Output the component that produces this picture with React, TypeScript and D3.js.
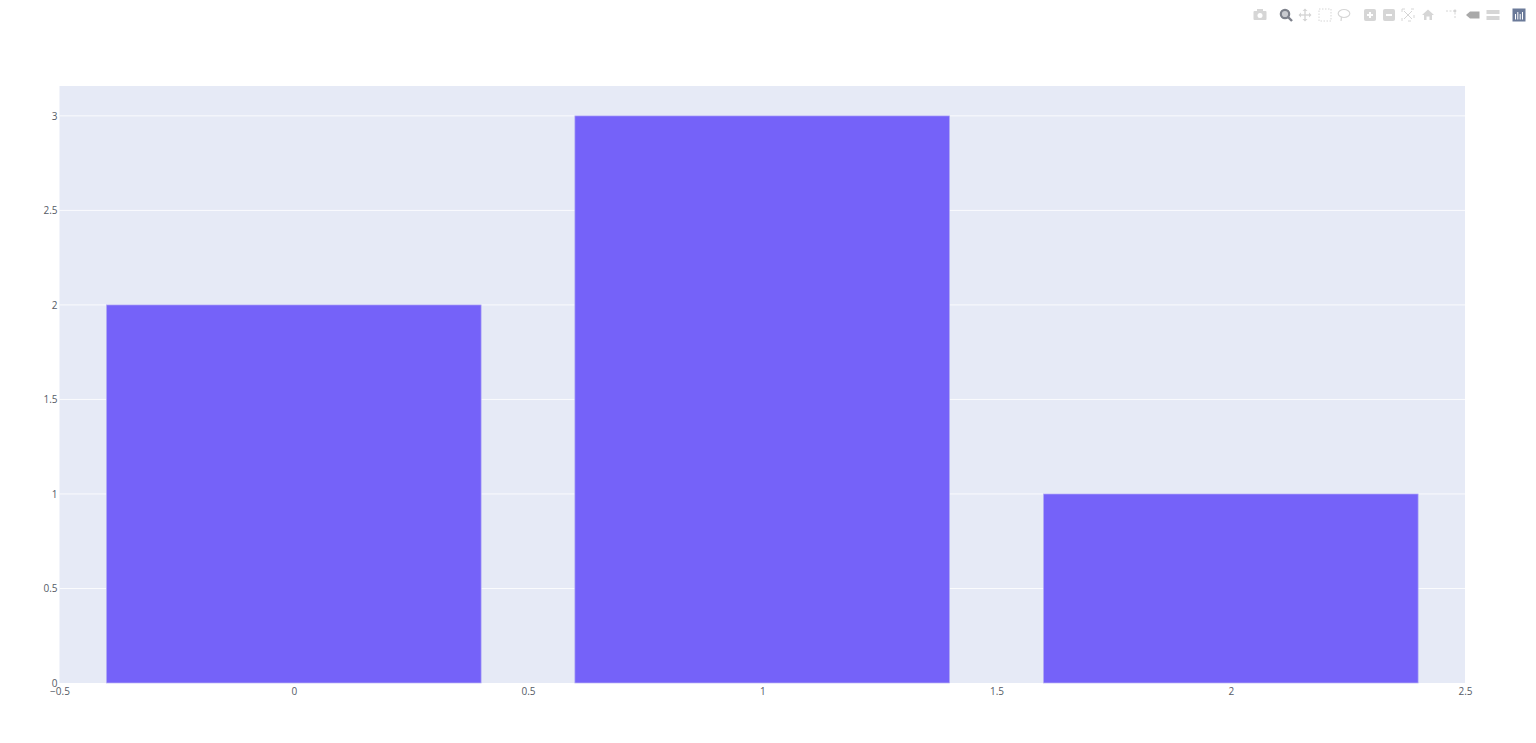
import * as React from "react";
import * as d3 from "d3";
import { useEffect, useRef } from "react";

const categories = [0, 1, 2];
const values = [2, 3, 1];
const xTicks = [-0.5, 0, 0.5, 1, 1.5, 2, 2.5];
const yTicks = [0, 0.5, 1, 1.5, 2, 2.5, 3];
const xDomain = [-0.5, 2.5];
const yDomain = [0, 3.158];
const barWidth = 0.8;

const width = 1536;
const height = 743;
const plot = { left: 59.5, right: 1465, top: 86, bottom: 683 };
const tickColor = "#555b66";
const iconColor = "#d6d6d6";

function drawChart(svgEl: SVGSVGElement) {
  const svg = d3.select(svgEl);
  svg.selectAll("*").remove();

  const x = d3.scaleLinear().domain(xDomain).range([plot.left, plot.right]);
  const y = d3.scaleLinear().domain(yDomain).range([plot.bottom, plot.top]);

  svg
    .append("rect")
    .attr("x", plot.left)
    .attr("y", plot.top)
    .attr("width", plot.right - plot.left)
    .attr("height", plot.bottom - plot.top)
    .attr("fill", "#e6eaf6");

  // horizontal grid
  svg
    .append("g")
    .selectAll("line")
    .data(yTicks.slice(1))
    .enter()
    .append("line")
    .attr("x1", plot.left)
    .attr("x2", plot.right)
    .attr("y1", (d) => y(d))
    .attr("y2", (d) => y(d))
    .attr("stroke", "#ffffff")
    .attr("stroke-opacity", 0.8)
    .attr("stroke-width", 1);

  svg
    .append("g")
    .selectAll("rect")
    .data(categories)
    .enter()
    .append("rect")
    .attr("x", (d) => x(d - barWidth / 2))
    .attr("y", (d) => y(values[d]))
    .attr("width", (d) => x(d + barWidth / 2) - x(d - barWidth / 2))
    .attr("height", (d) => y(0) - y(values[d]))
    .attr("fill", "#7562f9")
    .attr("stroke", "#b9b4f4")
    .attr("stroke-width", 0.7);

  // axes
  const xAxis = d3
    .axisBottom(x)
    .tickValues(xTicks)
    .tickFormat(d3.format(""))
    .tickSize(0)
    .tickPadding(5);
  const yAxis = d3
    .axisLeft(y)
    .tickValues(yTicks)
    .tickFormat(d3.format(""))
    .tickSize(0)
    .tickPadding(2);

  const gx = svg
    .append("g")
    .attr("transform", `translate(0, ${plot.bottom})`)
    .call(xAxis);
  const gy = svg
    .append("g")
    .attr("transform", `translate(${plot.left}, 0)`)
    .call(yAxis);

  [gx, gy].forEach((g) => {
    g.select(".domain").remove();
    g.selectAll("text")
      .attr("fill", tickColor)
      .attr("font-family", '"Open Sans", sans-serif')
      .attr("font-size", 10);
  });

  drawModebar(svg);
}

// plotly modebar, icons are only approximated
function drawModebar(svg: d3.Selection<SVGSVGElement, unknown, null, undefined>) {
  const bar = svg.append("g").attr("class", "modebar");
  const icon = (cx: number, color = iconColor) =>
    bar
      .append("g")
      .attr("transform", `translate(${cx}, 15)`)
      .attr("fill", color)
      .attr("stroke", color);

  // camera
  const cam = icon(1260);
  cam.append("rect").attr("x", -6.5).attr("y", -4).attr("width", 13).attr("height", 9).attr("rx", 1).attr("stroke", "none");
  cam.append("rect").attr("x", -3).attr("y", -6).attr("width", 6).attr("height", 3).attr("stroke", "none");
  cam.append("circle").attr("r", 2.5).attr("cy", 0.5).attr("fill", "#ffffff").attr("stroke", "none");

  // zoom (active)
  const zoom = icon(1286, "#7d818b");
  zoom.append("circle").attr("cx", -1).attr("cy", -1).attr("r", 4.2).attr("fill", "#c9cbd0").attr("stroke-width", 2.2);
  zoom.append("line").attr("x1", 2).attr("y1", 2).attr("x2", 6).attr("y2", 6).attr("stroke-width", 2.4);

  // pan
  const pan = icon(1305);
  pan.append("line").attr("x1", -6).attr("x2", 6).attr("stroke-width", 1.4);
  pan.append("line").attr("y1", -6).attr("y2", 6).attr("stroke-width", 1.4);
  pan.append("path").attr("stroke", "none").attr("d", "M-6.5,0L-4,-2.5V2.5ZM6.5,0L4,-2.5V2.5ZM0,-6.5L-2.5,-4H2.5ZM0,6.5L-2.5,4H2.5Z");

  // box select
  icon(1325)
    .append("rect")
    .attr("x", -6)
    .attr("y", -6)
    .attr("width", 12)
    .attr("height", 12)
    .attr("fill", "none")
    .attr("stroke-dasharray", "1.5 1.5");

  // lasso
  const lasso = icon(1344);
  lasso.append("ellipse").attr("cy", -1.5).attr("rx", 5.8).attr("ry", 4).attr("fill", "none").attr("stroke-width", 1.2);
  lasso.append("line").attr("x1", -2.5).attr("y1", 2).attr("x2", -3).attr("y2", 6).attr("stroke-width", 1.2);

  // zoom in / zoom out
  [1370, 1389].forEach((cx, i) => {
    const g = icon(cx);
    g.append("rect").attr("x", -5.5).attr("y", -5.5).attr("width", 11).attr("height", 11).attr("rx", 1);
    g.append("line").attr("x1", -3).attr("x2", 3).attr("stroke", "#ffffff").attr("stroke-width", 2);
    if (i === 0) g.append("line").attr("y1", -3).attr("y2", 3).attr("stroke", "#ffffff").attr("stroke-width", 2);
  });

  // autoscale
  const auto = icon(1408);
  auto.append("rect").attr("x", -6).attr("y", -6).attr("width", 12).attr("height", 12).attr("fill", "none").attr("stroke-dasharray", "3 6");
  auto.append("line").attr("x1", -4).attr("y1", -4).attr("x2", 4).attr("y2", 4);
  auto.append("line").attr("x1", 4).attr("y1", -4).attr("x2", -4).attr("y2", 4);

  // home
  icon(1428)
    .append("path")
    .attr("stroke", "none")
    .attr("d", d3.line()([[-6, 0], [0, -5.5], [6, 0], [4, 0], [4, 5], [1.5, 5], [1.5, 1.5], [-1.5, 1.5], [-1.5, 5], [-4, 5], [-4, 0]]) + "Z");

  // spike lines
  const spike = icon(1452);
  spike.append("path").attr("fill", "none").attr("stroke-dasharray", "2 1.5").attr("d", d3.line()([[-6, -4], [3, -4], [3, 4]]));
  spike.append("circle").attr("cx", 3).attr("cy", -4).attr("r", 1.4).attr("stroke", "none");

  // hover closest
  icon(1473)
    .append("path")
    .attr("stroke", "none")
    .attr("fill", "#a9a9a9")
    .attr("d", d3.line()([[-7, 0], [-3, -3.5], [6.5, -3.5], [6.5, 3.5], [-3, 3.5]]) + "Z");

  // hover compare
  const compare = icon(1493);
  compare.append("rect").attr("x", -6.5).attr("y", -5).attr("width", 13).attr("height", 4).attr("stroke", "none");
  compare.append("rect").attr("x", -6.5).attr("y", 1).attr("width", 13).attr("height", 4).attr("stroke", "none");

  // plotly logo
  const logo = icon(1519, "#6b7a99");
  logo.append("rect").attr("x", -6.5).attr("y", -6.5).attr("width", 13).attr("height", 13).attr("stroke", "none");
  [-3.5, -1.2, 1.2, 3.5].forEach((dx, i) => {
    logo
      .append("line")
      .attr("x1", dx)
      .attr("x2", dx)
      .attr("y1", i % 2 === 0 ? -1 : -3)
      .attr("y2", 4.5)
      .attr("stroke", "#ffffff")
      .attr("stroke-width", 1);
  });
}

export default function App() {
  const svg = useRef<SVGSVGElement>(null);

  useEffect(() => {
    if (!svg.current) {
      return;
    }
    drawChart(svg.current);
  }, []);

  return (
    <svg
      ref={svg}
      width={width}
      height={height}
      style={{ position: "absolute", left: 0, top: 0, background: "#ffffff" }}
    />
  );
}
